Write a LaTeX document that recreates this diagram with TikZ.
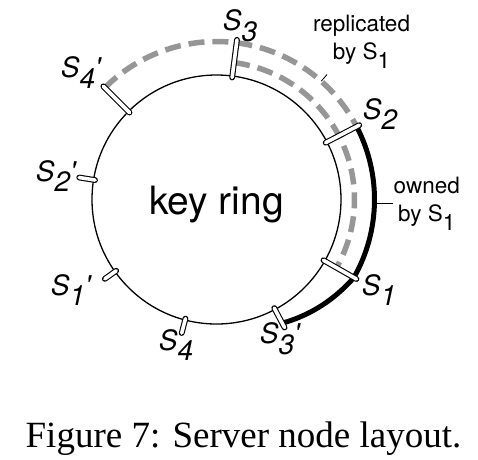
\documentclass[tikz,border=0pt]{standalone}
\usepackage{fontspec}
\setmainfont{Liberation Serif}
\newfontfamily\helv{TeX Gyre Heros}
\newcommand{\srvlabel}[2]{\textit{S\raisebox{-0.38em}{#1}#2}}
\definecolor{replgray}{RGB}{150,150,150}

\begin{document}
\begin{tikzpicture}[x=1pt, y=1pt,
    srvtick/.style={line width=1.1pt, double=white, double distance=3.6pt, line cap=round},
    repl/.style={replgray, line width=5.5pt, dash pattern=on 16pt off 8pt},
    srvname/.style={font=\helv\fontsize{28}{28}\selectfont, inner sep=0pt},
    note/.style={font=\helv\fontsize{22.5}{28}\selectfont, align=center, inner sep=1pt}]
  \useasboundingbox (-216.5,-259.5) rectangle (261.5,199.5);
  % the ring
  \draw[line width=1.3pt] (0,0) circle (124.5);
  \node[font=\helv\fontsize{39}{39}\selectfont] (ring) at (0,-5) {key ring};
  % replicated ranges
  \draw[repl] (135:158) arc (135:27.5:158);
  \draw[repl] (82.7:138) arc (82.7:-29.6:138);
  % owned range
  \draw[line width=5pt] (27.5:158) arc (27.5:-29.6:158);
  \draw[line width=5pt, domain=-29.6:-62, samples=30, variable=\t]
    plot (\t:{158-18*(\t+29.6)/(-32.4)});
  % server positions
  \foreach \a/\r in {82.7/161, 27.5/161, -29.6/161, 135/160, -62/145, -104.6/138, -144.6/137, 170.9/139}
    \draw[srvtick] (\a:123) -- (\a:\r);
  \node[srvname] (s3) at (23.5,173.5) {\srvlabel{3}{}};
  \node[srvname] (s4p) at (-135,127) {\srvlabel{4}{\textquotesingle}};
  \node[srvname] (s2) at (163.5,85.5) {\srvlabel{2}{}};
  \node[srvname] (s1) at (162.5,-90.5) {\srvlabel{1}{}};
  \node[srvname] (s3p) at (64,-139) {\srvlabel{3}{\textquotesingle}};
  \node[srvname] (s4) at (-40.5,-145.5) {\srvlabel{4}{}};
  \node[srvname] (s1p) at (-145,-90.5) {\srvlabel{1}{\textquotesingle}};
  \node[srvname] (s2p) at (-160,23.5) {\srvlabel{2}{\textquotesingle}};
  % notes
  \node[note] (repl) at (145,158) {replicated\\by S\raisebox{-0.4em}{1}};
  \coordinate (replarc) at (48.5:158);
  \coordinate (replend) at (48.5:167);
  \draw[line width=0.8pt] (replarc) -- (replend);
  \node[note, anchor=west] (owned) at (176,-4.5) {owned\\by S\raisebox{-0.4em}{1}};
  \coordinate (own) at (158,-3.5);
  \draw[line width=1pt] (own) -- (own -| owned.west);
  % caption
  \node[anchor=base, font=\fontsize{37}{37}\selectfont] (caption) at (27,-247.5) {Figure 7: Server node layout.};
\end{tikzpicture}
\end{document}
